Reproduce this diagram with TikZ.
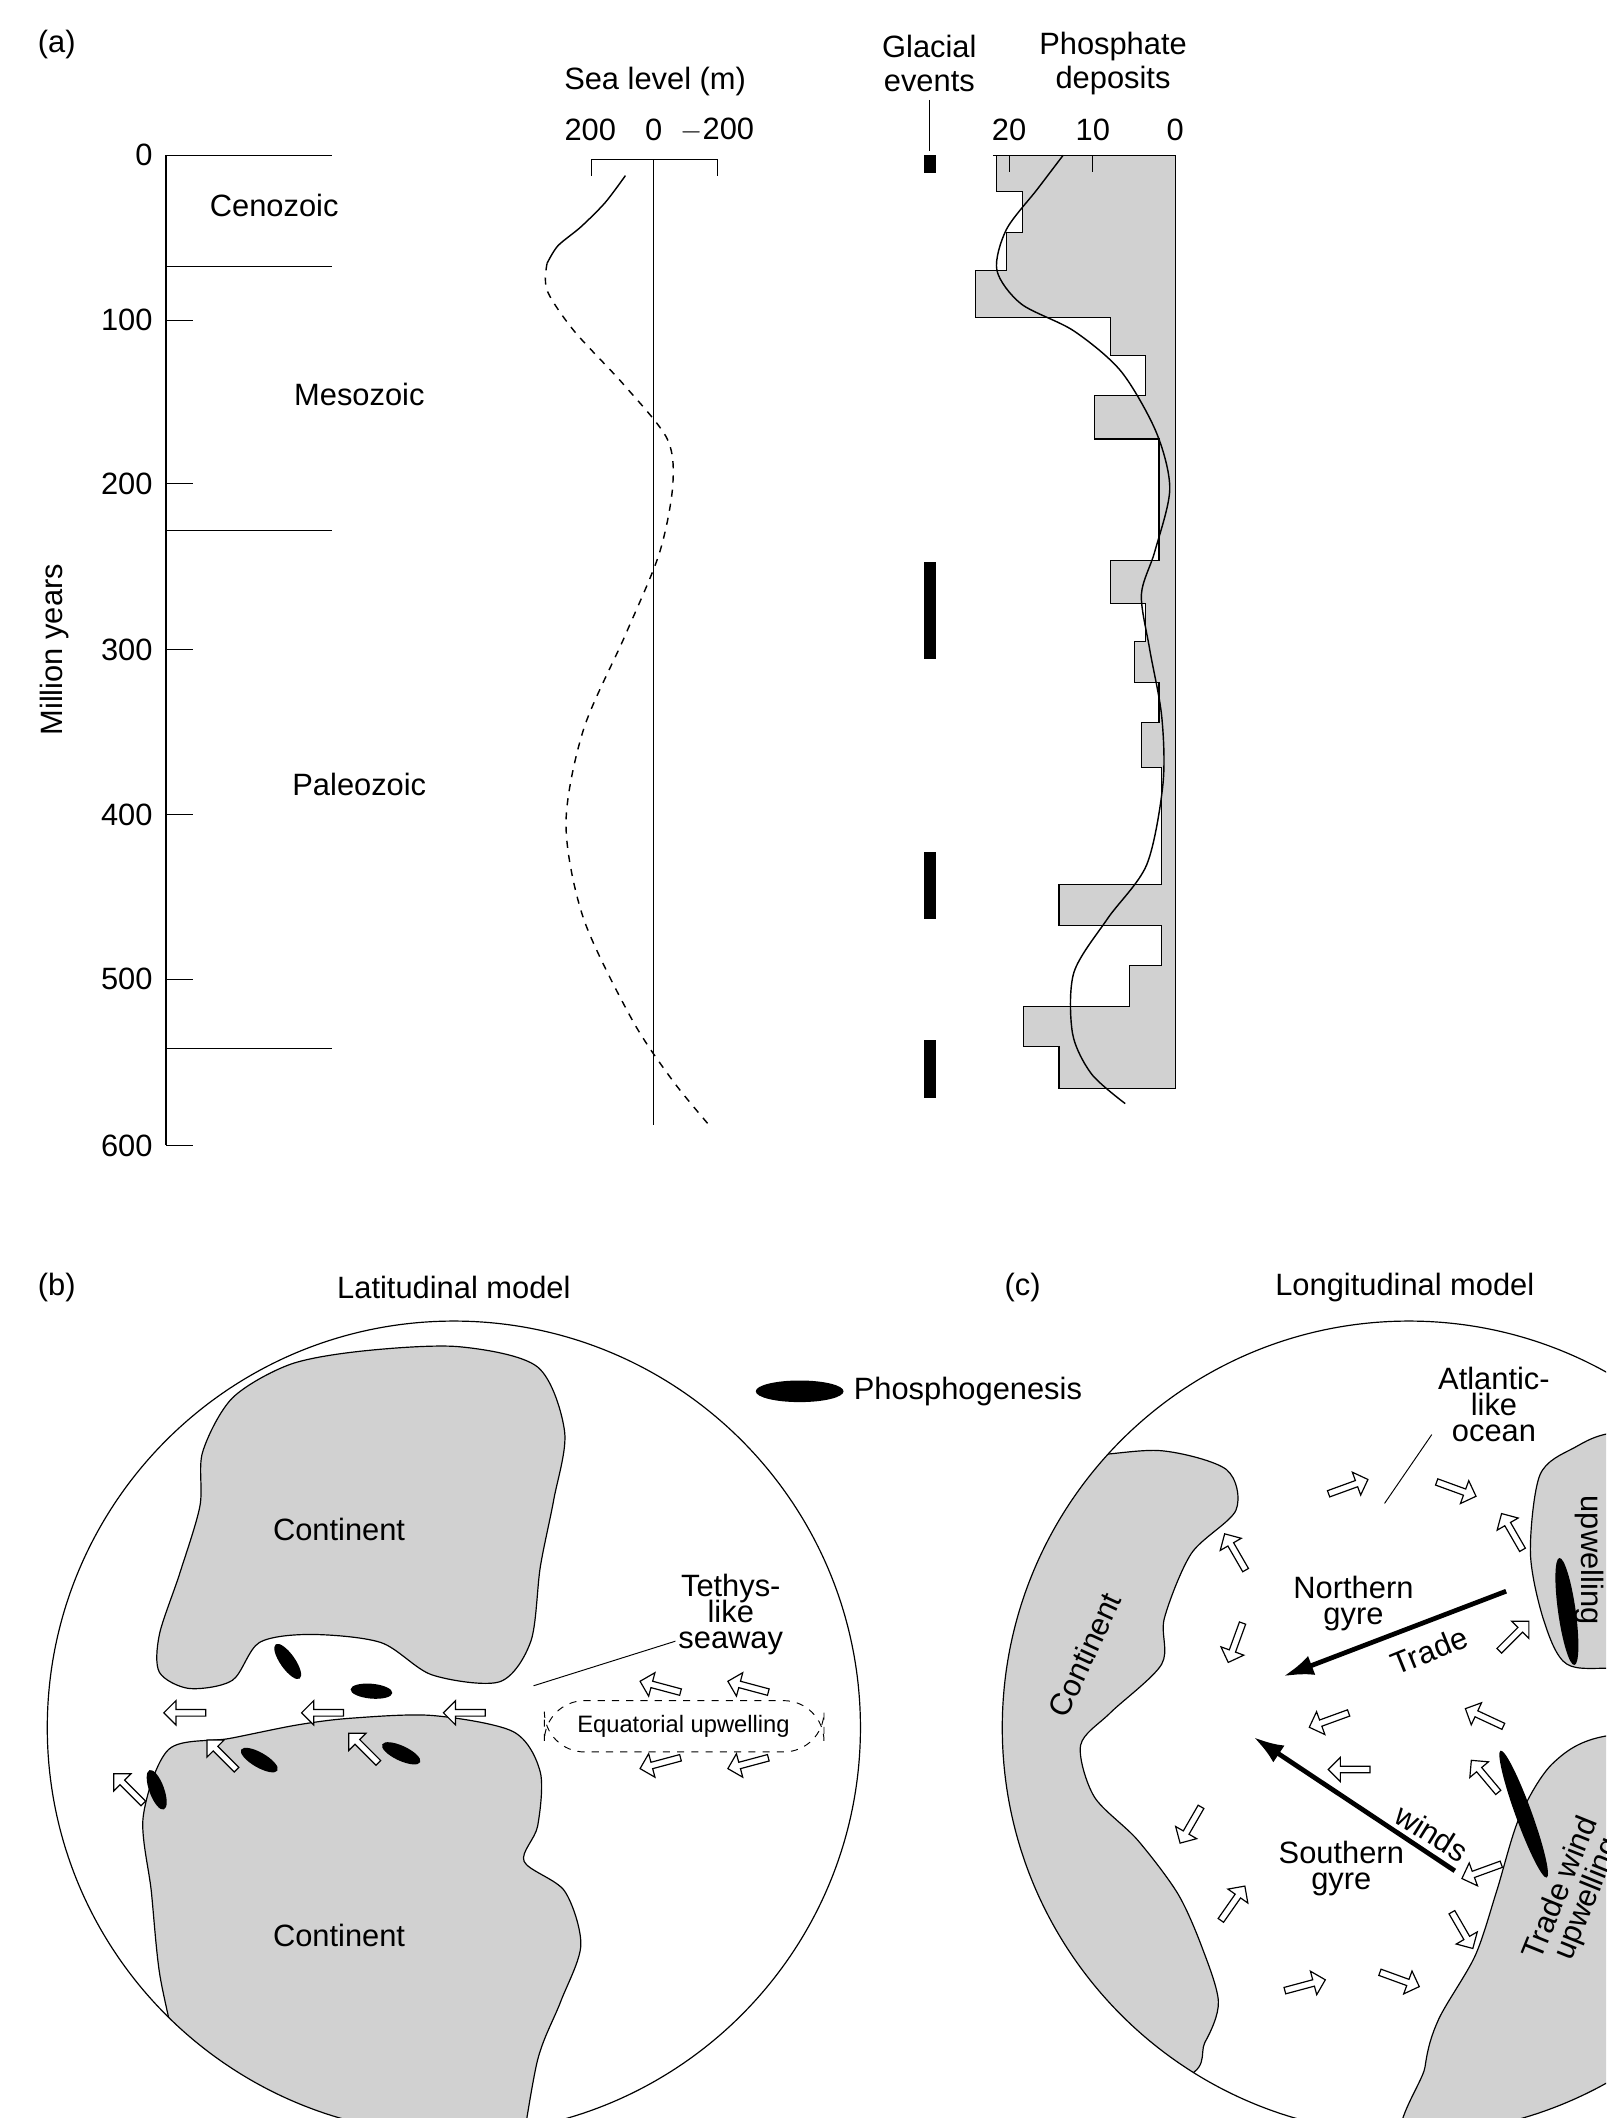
\documentclass[tikz,border=0pt]{standalone}
\usepackage{fontspec}
\setmainfont{Liberation Sans}
\usetikzlibrary{shapes.arrows,shapes.geometric,arrows.meta}
\begin{document}
\begin{tikzpicture}[x=0.02cm,y=-0.02cm,font=\fontsize{13}{15}\selectfont,
 lbl/.style={inner sep=1pt,align=center},
 harrow/.style={single arrow,draw,fill=white,minimum height=0.62cm,minimum width=0.36cm,single arrow head extend=0.08cm,inner sep=0.6pt,line width=0.5pt},
 blob/.style={ellipse,fill=black,minimum width=0.62cm,minimum height=0.22cm,inner sep=0},
 land/.style={fill=black!18,draw=black,line width=0.5pt},
 big/.style={line width=2pt,-{Latex[length=0.45cm,width=0.3cm]}}]
\useasboundingbox (0,0) rectangle (1189,1568);
\clip (0,0) rectangle (1189,1568);
%% (a)
\node[lbl] (la) at (42,33) {(a)};
\coordinate (t0) at (123,115); \coordinate (t6) at (123,848);
\draw[line width=0.6pt] (t0) -- (t6);
\draw (123,115) -- (246,115);
\foreach \v/\y in {0/115,100/237,200/358,300/481,400/603,500/725,600/848}{
 \draw (123,\y) -- (143,\y); \node[lbl,anchor=east] at (115,\y) {\v};}
\draw[line width=0.4pt] (123,197) -- (246,197) (123,393) -- (246,393) (123,776) -- (246,776);
\node[lbl] (ceno) at (203,152) {Cenozoic};
\node[lbl] (meso) at (266,292) {Mesozoic};
\node[lbl] (paleo) at (266,581) {Paleozoic};
\node[lbl,rotate=90] (my) at (40,481) {Million years};
% sea level
\node[lbl] (sl) at (485,60) {Sea level (m)};
\node[lbl] at (437,96) {200}; \node[lbl] at (484,96) {0}; \node[lbl] at (531,96) {$-$200};
\draw (438,130) -- (438,118) -- (531,118) -- (531,130) (484,118) -- (484,833);
\draw[line width=0.6pt] plot[smooth] coordinates {(463,130) (448,150) (430,168) (413,182) (405,195)};
\draw[line width=0.6pt,dashed] plot[smooth] coordinates {(405,195) (405,215) (425,245) (462,285) (494,325) (498,360) (488,410) (463,470) (432,540) (419,610) (432,680) (468,755) (498,800) (525,833)};
% glacial
\node[lbl] (ge) at (688,47) {Glacial\\[-1pt]events};
\draw (688,74) -- (688,112);
\foreach \a/\b in {115/128,416/488,631/680,770/813}{\fill (684,\a) rectangle (693,\b);}
% phosphate
\node[lbl] (pd) at (824,47) {Phosphate\\[-1pt]deposits};
\node[lbl] at (747,96) {20}; \node[lbl] at (809,96) {10}; \node[lbl] at (870,96) {0};
\draw[land] (870,115) -- (738,115) -- (738,142) -- (757,142) -- (757,172) -- (745,172) -- (745,200) -- (722,200) -- (722,235) -- (822,235) -- (822,263) -- (848,263) -- (848,293) -- (810,293) -- (810,325) -- (858,325) -- (858,415) -- (822,415) -- (822,447) -- (848,447) -- (848,475) -- (840,475) -- (840,505) -- (858,505) -- (858,535) -- (845,535) -- (845,568) -- (860,568) -- (860,655) -- (784,655) -- (784,685) -- (860,685) -- (860,715) -- (836,715) -- (836,745) -- (758,745) -- (758,775) -- (784,775) -- (784,806) -- (870,806) -- cycle;
\draw (735,115) -- (870,115) (747,115) -- (747,127) (809,115) -- (809,127);
\draw[line width=0.6pt] plot[smooth] coordinates {(787,115) (768,140) (745,170) (738,200) (756,225) (795,245) (830,275) (856,320) (866,362) (855,408) (845,440) (851,480) (860,530) (861,580) (849,640) (820,680) (795,720) (794,765) (808,795) (833,817)};
%% (b)
\node[lbl] (lb) at (42,953) {(b)};
\node[lbl] (latm) at (336,953) {Latitudinal model};
\begin{scope}
\clip (336,1279) circle[radius=301];
\draw[land] plot[smooth cycle,tension=0.5] coordinates {(150,1075) (172,1035) (215,1010) (270,1000) (340,997) (398,1012) (418,1060) (410,1110) (400,1160) (393,1215) (370,1245) (320,1240) (282,1216) (230,1210) (192,1216) (172,1244) (140,1250) (118,1238) (118,1210) (133,1165) (148,1115)};
\draw[land] plot[smooth,tension=0.5] coordinates {(140,1600) (130,1520) (118,1460) (112,1400) (106,1345) (125,1295) (170,1287) (220,1277) (260,1272) (320,1270) (380,1282) (400,1312) (398,1352) (388,1378) (418,1400) (430,1440) (415,1482) (398,1525) (385,1600)};
\end{scope}
\draw[line width=0.5pt] (336,1279) circle[radius=301];
\node[lbl] (c1) at (251,1132) {Continent};
\node[lbl] (c2) at (251,1433) {Continent};
\node[blob,rotate=-55] at (213,1230) {};
\node[blob,rotate=-5] at (275,1252) {};
\node[blob,rotate=-30] at (192,1303) {};
\node[blob,rotate=-25] at (297,1298) {};
\node[blob,rotate=-70] at (116,1325) {};
\node[harrow,rotate=180] at (138,1268) {};
\node[harrow,rotate=180] at (240,1268) {};
\node[harrow,rotate=180] at (345,1268) {};
\node[harrow,rotate=135] at (96,1325) {};
\node[harrow,rotate=135] at (165,1300) {};
\node[harrow,rotate=135] at (270,1295) {};
\draw[dashed,rounded corners=17] (403,1259) rectangle (610,1297);
\node[lbl,font=\fontsize{10}{12}\selectfont] (eu) at (506,1278) {Equatorial upwelling};
\foreach \x in {490,555}{\node[harrow,rotate=165] at (\x,1249) {}; \node[harrow,rotate=195] at (\x,1305) {};}
\node[lbl] (tl) at (541,1195) {Tethys-\\[-4pt]like\\[-4pt]seaway};
\draw (500,1215) -- (395,1248);
\node[blob,minimum width=1.3cm,minimum height=0.32cm] (pb) at (592,1030) {};
\node[lbl,anchor=west] (pt) at (630,1030) {Phosphogenesis};
%% (c)
\node[lbl] (lc) at (757,953) {(c)};
\node[lbl] (lonm) at (1040,953) {Longitudinal model};
\begin{scope}
\clip (1043,1279) circle[radius=301];
\draw[land] plot[smooth,tension=0.5] coordinates {(700,1080) (800,1078) (860,1074) (908,1088) (915,1118) (882,1150) (862,1198) (860,1232) (822,1268) (800,1292) (810,1330) (842,1362) (872,1402) (890,1442) (902,1482) (892,1512) (870,1540) (700,1560)};
\draw[land] plot[smooth,tension=0.5] coordinates {(1300,1060) (1200,1060) (1165,1072) (1140,1092) (1133,1150) (1143,1200) (1160,1232) (1200,1235) (1300,1235)};
\draw[land] plot[smooth,tension=0.5] coordinates {(1300,1280) (1190,1285) (1150,1305) (1125,1345) (1108,1400) (1092,1448) (1065,1495) (1055,1530) (1050,1600) (1300,1600)};
\node[blob,rotate=-82,minimum width=1.6cm,minimum height=0.26cm] at (1160,1193) {};
\node[blob,rotate=-70,minimum width=2.0cm,minimum height=0.24cm] at (1128,1343) {};
\node[lbl,rotate=-90] at (1177,1155) {upwelling};
\node[lbl,rotate=68] at (1166,1402) {Trade wind\\[-3pt]upwelling};
\end{scope}
\draw[line width=0.5pt] (1043,1279) circle[radius=301];
\node[lbl,rotate=65] (c3) at (803,1225) {Continent};
\node[lbl] (ng) at (1002,1187) {Northern\\[-4pt]gyre};
\node[lbl] (sg) at (993,1383) {Southern\\[-4pt]gyre};
\node[lbl,rotate=22] (tr) at (1058,1222) {Trade};
\node[lbl,rotate=-32] (wi) at (1060,1357) {winds};
\coordinate (a1s) at (1115,1178); \coordinate (a1e) at (950,1241);
\coordinate (a2s) at (1077,1385); \coordinate (a2e) at (928,1286);
\draw[big] (a1s) -- (a1e);
\draw[big] (a2s) -- (a2e);
\node[lbl] (ao) at (1106,1040) {Atlantic-\\[-4pt]like\\[-4pt]ocean};
\draw (1060,1062) -- (1025,1113);
\node[harrow,rotate=20] at (997,1101) {};
\node[harrow,rotate=-20] at (1077,1102) {};
\node[harrow,rotate=120] at (915,1150) {};
\node[harrow,rotate=250] at (915,1215) {};
\node[harrow,rotate=200] at (985,1273) {};
\node[harrow,rotate=180] at (1000,1310) {};
\node[harrow,rotate=155] at (1100,1272) {};
\node[harrow,rotate=120] at (1120,1135) {};
\node[harrow,rotate=45] at (1120,1212) {};
\node[harrow,rotate=130] at (1100,1316) {};
\node[harrow,rotate=240] at (882,1350) {};
\node[harrow,rotate=55] at (912,1410) {};
\node[harrow,rotate=15] at (965,1470) {};
\node[harrow,rotate=-20] at (1035,1465) {};
\node[harrow,rotate=-60] at (1082,1428) {};
\node[harrow,rotate=200] at (1098,1385) {};
\end{tikzpicture}
\end{document}
